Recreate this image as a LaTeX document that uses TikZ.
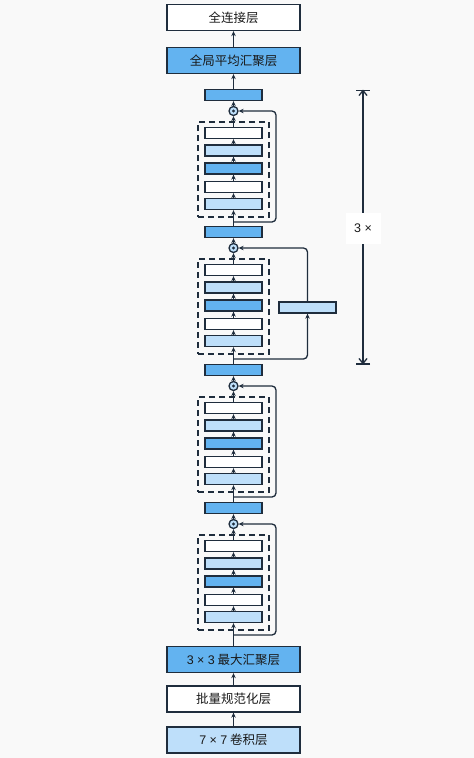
\documentclass[tikz,border=0pt]{standalone}
\usepackage{fontspec}
\newfontfamily\cjk{Noto Sans CJK SC}
\newfontfamily\lat{Liberation Sans}
\usetikzlibrary{arrows.meta}
\definecolor{edge}{HTML}{1F2D3D}
\definecolor{blueM}{HTML}{63B3F0}
\definecolor{blueL}{HTML}{BEDFFA}
\definecolor{paper}{HTML}{F9F9F9}
\tikzset{
  layer/.style={draw=edge, line width=1.3pt, minimum width=133pt, minimum height=26pt, inner sep=0pt, text=black!90, font=\cjk\fontsize{12.5}{15}\selectfont},
  blk/.style={draw=edge, line width=1.3pt, minimum width=57pt, minimum height=11pt, inner sep=0pt},
  add/.style={circle, draw=edge, line width=1.3pt, fill=blueL, minimum size=9pt, inner sep=0pt, path picture={\fill[edge] (path picture bounding box.center) circle (1.6pt);}},
  unitbox/.style={draw=edge, line width=1.5pt, dash pattern=on 6pt off 4pt, minimum width=71pt, minimum height=95pt, inner sep=0pt},
  flow/.style={draw=edge, line width=1.3pt, -{Stealth[length=5pt,width=4.5pt]}},
  skip/.style={flow, rounded corners=4pt},
}
\begin{document}
\begin{tikzpicture}[x=1pt,y=-1pt]
\fill[paper] (0,0) rectangle (474,758);
\useasboundingbox (0,0) rectangle (474,758);

% stem
\node[layer, fill=blueL] (conv) at (233.5,740) {{\lat 7 × 7} 卷积层};
\node[layer, fill=white] (bn) at (233.5,699) {批量规范化层};
\node[layer, fill=blueM] (mp) at (233.5,659.5) {{\lat 3 × 3} 最大汇聚层};

% residual unit A
\node[unitbox] (boxA) at (233.5,582.5) {};
\node[blk, fill=blueL] (a1) at (233.5,617) {};
\node[blk, fill=white] (a2) at (233.5,600) {};
\node[blk, fill=blueM] (a3) at (233.5,581.5) {};
\node[blk, fill=blueL] (a4) at (233.5,563.5) {};
\node[blk, fill=white] (a5) at (233.5,546) {};
\node[add] (pA) at (233.5,524) {};
\node[blk, fill=blueM] (oA) at (233.5,508) {};
\coordinate (jA) at (233.5,635);
\coordinate (sA) at (276,524);

% residual unit B
\node[unitbox] (boxB) at (233.5,444.5) {};
\node[blk, fill=blueL] (b1) at (233.5,479) {};
\node[blk, fill=white] (b2) at (233.5,462) {};
\node[blk, fill=blueM] (b3) at (233.5,443.5) {};
\node[blk, fill=blueL] (b4) at (233.5,425.5) {};
\node[blk, fill=white] (b5) at (233.5,408) {};
\node[add] (pB) at (233.5,386) {};
\node[blk, fill=blueM] (oB) at (233.5,370) {};
\coordinate (jB) at (233.5,497);
\coordinate (sB) at (276,386);

% residual unit C (1x1 conv on the shortcut)
\node[unitbox] (boxC) at (233.5,306.5) {};
\node[blk, fill=blueL] (c1) at (233.5,341) {};
\node[blk, fill=white] (c2) at (233.5,324) {};
\node[blk, fill=blueM] (c3) at (233.5,305.5) {};
\node[blk, fill=blueL] (c4) at (233.5,287.5) {};
\node[blk, fill=white] (c5) at (233.5,270) {};
\node[add] (pC) at (233.5,248) {};
\node[blk, fill=blueM] (oC) at (233.5,232) {};
\node[blk, fill=blueL] (proj) at (307.5,307.5) {};
\coordinate (jC) at (233.5,359);

% residual unit D
\node[unitbox] (boxD) at (233.5,169.5) {};
\node[blk, fill=blueL] (d1) at (233.5,204) {};
\node[blk, fill=white] (d2) at (233.5,187) {};
\node[blk, fill=blueM] (d3) at (233.5,168.5) {};
\node[blk, fill=blueL] (d4) at (233.5,150.5) {};
\node[blk, fill=white] (d5) at (233.5,133) {};
\node[add] (pD) at (233.5,111) {};
\node[blk, fill=blueM] (oD) at (233.5,95) {};
\coordinate (jD) at (233.5,222);
\coordinate (sD) at (276,111);

% head
\node[layer, fill=blueM] (gap) at (233.5,60.5) {全局平均汇聚层};
\node[layer, fill=white] (fc) at (233.5,17.5) {全连接层};

% main path
\draw[flow] (conv) -- (bn);
\draw[flow] (bn) -- (mp);
\draw[flow] (mp) -- (a1);
\draw[flow] (a1) -- (a2);
\draw[flow] (a2) -- (a3);
\draw[flow] (a3) -- (a4);
\draw[flow] (a4) -- (a5);
\draw[flow] (a5) -- (pA);
\draw[flow] (pA) -- (oA);
\draw[flow] (oA) -- (b1);
\draw[flow] (b1) -- (b2);
\draw[flow] (b2) -- (b3);
\draw[flow] (b3) -- (b4);
\draw[flow] (b4) -- (b5);
\draw[flow] (b5) -- (pB);
\draw[flow] (pB) -- (oB);
\draw[flow] (oB) -- (c1);
\draw[flow] (c1) -- (c2);
\draw[flow] (c2) -- (c3);
\draw[flow] (c3) -- (c4);
\draw[flow] (c4) -- (c5);
\draw[flow] (c5) -- (pC);
\draw[flow] (pC) -- (oC);
\draw[flow] (oC) -- (d1);
\draw[flow] (d1) -- (d2);
\draw[flow] (d2) -- (d3);
\draw[flow] (d3) -- (d4);
\draw[flow] (d4) -- (d5);
\draw[flow] (d5) -- (pD);
\draw[flow] (pD) -- (oD);
\draw[flow] (oD) -- (gap);
\draw[flow] (gap) -- (fc);

% shortcuts
\draw[skip] (jA) -| (sA) -- (pA);
\draw[skip] (jB) -| (sB) -- (pB);
\draw[skip] (jC) -| (proj);
\draw[skip] (proj) |- (pC);
\draw[skip] (jD) -| (sD) -- (pD);

% repeat bracket
\coordinate (rt) at (363,89.5);
\coordinate (rb) at (363,364.5);
\draw[edge, line width=1.3pt, {Bar[width=14pt]}-{Bar[width=14pt]}] (rt) -- (rb);
\draw[edge, line width=1.3pt, {Straight Barb[length=5pt,width=8pt]}-{Straight Barb[length=5pt,width=8pt]}] (rt) -- (rb);
\node[fill=white, minimum width=35pt, minimum height=31pt, inner sep=0pt, text=black!90, font=\lat\fontsize{12.5}{15}\selectfont] (rep) at (363,228) {3 ×};

\end{tikzpicture}
\end{document}
